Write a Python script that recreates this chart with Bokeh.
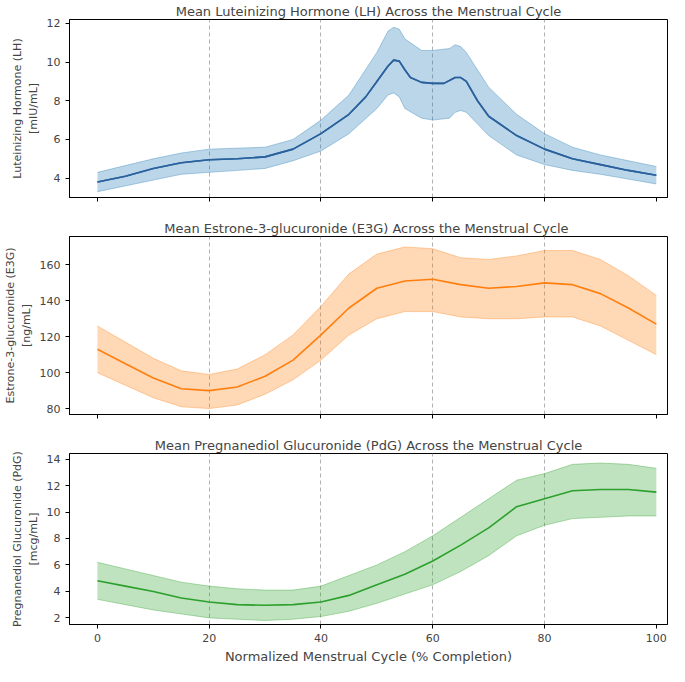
from bokeh.plotting import figure
from bokeh.layouts import column
from bokeh.models import FixedTicker, Range1d
from bokeh.embed import file_html
from bokeh.resources import INLINE

lh_x = [0,5,10,15,20,25,30,35,40,45,48,50,52,53,54,55,56,58,60,62,64,65,66,68,70,75,80,85,90,95,100]
lh_mean = [3.8,4.1,4.5,4.8,4.95,5.0,5.1,5.5,6.3,7.3,8.2,9.0,9.8,10.1,10.05,9.6,9.2,8.95,8.9,8.9,9.2,9.2,9.0,8.0,7.2,6.2,5.5,5.0,4.7,4.4,4.15]
lh_ux = [0,10,15,20,30,35,40,45,50,52,53,54,55,58,60,63,64,65,66,70,75,80,85,90,100]
lh_up = [4.3,5.0,5.3,5.5,5.6,6.0,7.0,8.3,10.5,11.6,11.8,11.7,11.2,10.6,10.6,10.7,10.9,10.8,10.5,8.7,7.3,6.3,5.6,5.2,4.6]
lh_lo = [3.3,3.9,4.2,4.3,4.5,4.9,5.4,6.3,7.6,8.3,8.4,8.2,7.6,7.1,7.0,7.1,7.4,7.5,7.4,6.2,5.2,4.7,4.4,4.2,3.7]

x5 = list(range(0,101,5))
e3g_mean = [113,105,97,91,90,92,98,107,121,136,147,151,152,149,147,148,150,149,144,136,127]
e3g_up = [126,117,108,101,99,102,110,121,137,155,166,170,169,164,163,165,168,168,163,154,143]
e3g_lo = [100,93,86,81,80,82,88,96,107,121,130,134,134,131,130,130,131,131,126,118,110]

pdg_mean = [4.8,4.4,4.0,3.5,3.2,3.0,2.95,3.0,3.2,3.7,4.5,5.3,6.3,7.5,8.8,10.4,11.0,11.6,11.7,11.7,11.5]
pdg_up = [6.2,5.7,5.2,4.7,4.4,4.2,4.1,4.1,4.4,5.2,6.0,7.0,8.2,9.6,11.0,12.4,12.9,13.6,13.7,13.6,13.3]
pdg_lo = [3.4,3.0,2.6,2.3,2.0,1.9,1.8,1.9,2.1,2.5,3.1,3.8,4.5,5.5,6.7,8.2,9.0,9.5,9.6,9.7,9.7]

xr = Range1d(-5, 102)

def panel(title, ylabel, yr, yticks, color, xs, mean, bx, up, lo, bottom=False):
    p = figure(width=669, height=232 if bottom else 217, x_range=xr, y_range=Range1d(*yr),
               output_backend="svg", toolbar_location=None, title=title,
               min_border_left=62, min_border_right=2, min_border_top=2,
               min_border_bottom=8)
    p.title.align = "center"
    p.title.text_font = "DejaVu Sans"
    p.title.text_font_size = "13px"
    p.title.text_font_style = "normal"
    p.title.offset = 0
    p.title.standoff = 2
    p.varea(x=bx, y1=lo, y2=up, fill_color=color, fill_alpha=0.3)
    p.line(bx, up, color=color, alpha=0.35, line_width=1)
    p.line(bx, lo, color=color, alpha=0.35, line_width=1)
    p.line(xs, mean, color=color, line_width=1.6)
    p.xaxis.ticker = FixedTicker(ticks=[0,20,40,60,80,100])
    p.yaxis.ticker = FixedTicker(ticks=yticks)
    p.xgrid.ticker = FixedTicker(ticks=[20,40,60,80])
    p.xgrid.grid_line_color = "#b0b0b0"
    p.xgrid.grid_line_dash = "4 3"
    p.ygrid.grid_line_color = None
    p.yaxis.axis_label = ylabel
    p.yaxis.axis_label_text_font_style = "normal"
    p.yaxis.axis_label_text_font_size = "11px"
    p.yaxis.axis_label_text_font = "DejaVu Sans"
    p.yaxis.axis_label_standoff = 4
    for ax in (p.xaxis[0], p.yaxis[0]):
        ax.major_label_text_font = "DejaVu Sans"
        ax.major_label_text_font_size = "11px"
        ax.minor_tick_line_color = None
        ax.major_tick_in = 0
        ax.major_tick_out = 4
        ax.axis_line_color = "black"
        ax.major_tick_line_color = "black"
    p.outline_line_color = "black"
    if bottom:
        p.xaxis.axis_label = "Normalized Menstrual Cycle (% Completion)"
        p.xaxis.axis_label_text_font_style = "normal"
        p.xaxis.axis_label_text_font_size = "13px"
        p.xaxis.axis_label_text_font = "DejaVu Sans"
        p.xaxis.axis_label_standoff = 4
    else:
        p.xaxis.major_label_overrides = {t: " " for t in [0,20,40,60,80,100]}
        p.xaxis.major_label_standoff = 0
    return p

p1 = panel("Mean Luteinizing Hormone (LH) Across the Menstrual Cycle", "Luteinizing Hormone (LH)\n[mIU/mL]",
           (3.0, 12.2), [4,6,8,10,12], "#1f77b4", lh_x, lh_mean, lh_ux, lh_up, lh_lo)
p1.line(lh_x, lh_mean, color="#2f5f9a", line_width=1.6)
p2 = panel("Mean Estrone-3-glucuronide (E3G)  Across the Menstrual Cycle", "Estrone-3-glucuronide (E3G)\n[ng/mL]",
           (76.7, 175.8), [80,100,120,140,160], "#ff7f0e", x5, e3g_mean, x5, e3g_up, e3g_lo)
p3 = panel("Mean Pregnanediol Glucuronide (PdG) Across the Menstrual Cycle", "Pregnanediol Glucuronide (PdG)\n[mcg/mL]",
           (1.5, 14.42), [2,4,6,8,10,12,14], "#2ca02c", x5, pdg_mean, x5, pdg_up, pdg_lo, bottom=True)

layout = column(p1, p2, p3, spacing=0)
open("out.html", "w").write(file_html(layout, INLINE))
